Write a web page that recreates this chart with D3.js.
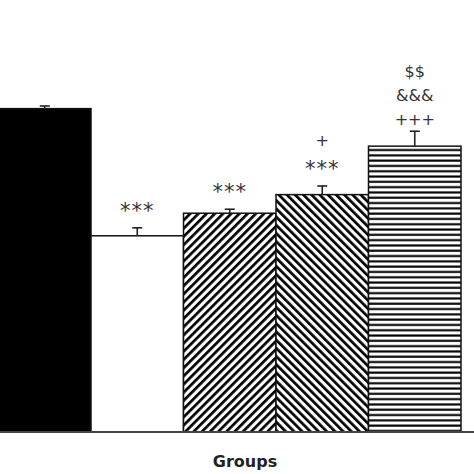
<!DOCTYPE html>
<html>
<head>
<meta charset="utf-8">
<script src="https://cdn.jsdelivr.net/npm/d3@7"></script>
<style>
  body { margin: 0; background: #fff; }
  svg { display: block; }
</style>
</head>
<body>
<div id="wrapper"></div>
<script>
// data
var groups = ["G1", "G2", "G3", "G4", "G5"];
var means = [97.4, 59.1, 65.9, 71.5, 86.1];
var errors = [0.8, 2.4, 1.2, 2.6, 4.5];
var fills = ["black", "white", "diagA", "diagB", "horiz"];
var marks = [[], ["***"], ["***"], ["***", "+"], ["+++", "&&&", "$$"]];

function draw(){
    var width = 474;
    var height = 474;
    var baseY = 432;

    var svg = d3.select("#wrapper").append("svg")
        .attr("width", width)
        .attr("height", height)

    var defs = svg.append("defs")
    // diagonal hatch, "/" and "\"
    var hatches = [["diagA", 45], ["diagB", -45]]
    hatches.forEach(function(h){
        var p = defs.append("pattern")
            .attr("id", h[0])
            .attr("patternUnits", "userSpaceOnUse")
            .attr("width", 5.8)
            .attr("height", 10)
            .attr("patternTransform", "rotate(" + h[1] + ")")
        p.append("rect").attr("width", 5.8).attr("height", 10).attr("fill", "white")
        p.append("rect").attr("width", 2.7).attr("height", 10).attr("fill", "black")
    })
    var hp = defs.append("pattern")
        .attr("id", "horiz")
        .attr("patternUnits", "userSpaceOnUse")
        .attr("width", 10)
        .attr("height", 5.3)
        .attr("y", 146)
    hp.append("rect").attr("width", 10).attr("height", 5.3).attr("fill", "white")
    hp.append("rect").attr("y", 3).attr("width", 10).attr("height", 2.1).attr("fill", "black")

    var xScaler = d3.scaleBand()
        .domain(groups)
        .range([-1.5, 461])
        .padding(0)
    var yScaler = d3.scaleLinear()
        .domain([0, 100])
        .range([baseY, 100])

    var rows = groups.map(function(g, i){
        return {g: g, v: means[i], e: errors[i], fill: fills[i], marks: marks[i]}
    })

    svg.selectAll("rect.bar")
        .data(rows)
        .enter().append("rect")
        .attr("class", "bar")
        .attr("x", function(d){ return xScaler(d.g) })
        .attr("y", function(d){ return yScaler(d.v) })
        .attr("width", xScaler.bandwidth())
        .attr("height", function(d){ return baseY - yScaler(d.v) })
        .attr("fill", function(d){
            return (d.fill == "black" || d.fill == "white") ? d.fill : "url(#" + d.fill + ")"
        })
        .attr("stroke", "#111")
        .attr("stroke-width", 1.5)

    // error bars
    var cx = function(d){ return xScaler(d.g) + xScaler.bandwidth()/2 }
    var eb = svg.selectAll("g.err")
        .data(rows)
        .enter().append("g")
        .attr("class", "err")
    eb.append("line")
        .attr("x1", cx).attr("x2", cx)
        .attr("y1", function(d){ return yScaler(d.v) })
        .attr("y2", function(d){ return yScaler(d.v + d.e) })
        .attr("stroke", "#222")
        .attr("stroke-width", 1.6)
    eb.append("line")
        .attr("x1", function(d){ return cx(d) - 5 })
        .attr("x2", function(d){ return cx(d) + 5 })
        .attr("y1", function(d){ return yScaler(d.v + d.e) })
        .attr("y2", function(d){ return yScaler(d.v + d.e) })
        .attr("stroke", "#222")
        .attr("stroke-width", 1.6)

    // significance marks stacked above the error bar
    rows.forEach(function(d){
        var y = yScaler(d.v + d.e) - 6
        d.marks.forEach(function(m, j){
            var stars = m.indexOf("*") >= 0
            if (j > 0) y -= 24
            svg.append("text")
                .attr("x", cx(d))
                .attr("y", stars ? y - 4 : y)
                .attr("text-anchor", "middle")
                .style("font-family", "DejaVu Sans, sans-serif")
                .style("font-size", stars ? "21px" : "16px")
                .style("letter-spacing", stars ? "1px" : "0px")
                .style("fill", "#333")
                .text(m)
            if (stars) y -= 10
        })
    })

    // baseline
    svg.append("line")
        .attr("x1", 0).attr("x2", width)
        .attr("y1", baseY).attr("y2", baseY)
        .attr("stroke", "#444")
        .attr("stroke-width", 2)

    svg.append("text")
        .attr("x", 245)
        .attr("y", 467)
        .attr("text-anchor", "middle")
        .style("font-family", "DejaVu Sans, sans-serif")
        .style("font-weight", "bold")
        .style("font-size", "16px")
        .style("fill", "#222")
        .text("Groups")
}
draw()
</script>
</body>
</html>
